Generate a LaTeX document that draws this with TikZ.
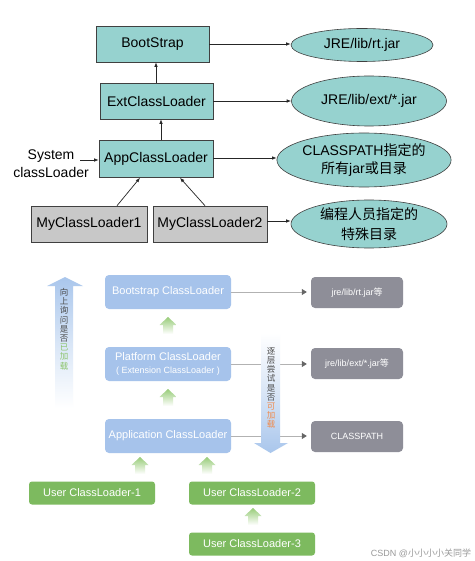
\documentclass[tikz,border=0pt]{standalone}
\usepackage{fontspec}
\setmainfont{Liberation Sans}
\newfontfamily\cjk{Noto Sans CJK SC}
\usetikzlibrary{shapes.geometric,arrows.meta}
\definecolor{teal1}{HTML}{96D2CF}
\definecolor{gbox}{HTML}{C8C8C8}
\definecolor{bbox}{HTML}{A6C3EB}
\definecolor{dbox}{HTML}{8E8E98}
\definecolor{grn}{HTML}{7DBA5F}
\definecolor{garr}{HTML}{98CC78}
\definecolor{barr}{HTML}{A9C6EC}
\definecolor{orng}{HTML}{F08A4B}
\definecolor{gtxt}{HTML}{8CC46C}
\begin{document}
\begin{tikzpicture}[x=1pt,y=-1pt,
 topbox/.style={draw=black!75,line width=0.6pt,fill=teal1,minimum width=113pt,minimum height=36pt,inner sep=0pt,font=\fontsize{14}{16}\selectfont},
 graybox/.style={topbox,fill=gbox},
 oval/.style={ellipse,draw=black!75,line width=0.6pt,fill=teal1,inner sep=0pt,align=center,font=\fontsize{14}{18}\selectfont},
 tarr/.style={-{Latex[length=4.5pt,width=3.5pt]},line width=0.7pt,black!85},
 bluebox/.style={rounded corners=4pt,fill=bbox,text=white,minimum width=126pt,minimum height=34pt,inner sep=0pt,font=\fontsize{11}{12}\selectfont,align=center},
 darkbox/.style={rounded corners=4pt,fill=dbox,text=white,minimum width=92pt,minimum height=31pt,inner sep=0pt,font=\fontsize{9}{10}\selectfont},
 greenbox/.style={rounded corners=3pt,fill=grn,text=white,minimum width=126pt,minimum height=23pt,inner sep=0pt,font=\fontsize{11}{12}\selectfont},
 barrow/.style={draw=black!30,line width=0.6pt,shorten >=4pt,-{Triangle[length=5pt,width=6pt,color=black!60]}},
 vtext/.style={align=center,inner sep=0pt,text=black!70,font=\cjk\fontsize{8.5}{9.2}\selectfont},
 fatup/.pic={\shade[top color=garr,bottom color=white] (0,0)--(8.5,8)--(5,8)--(5,17)--(-5,17)--(-5,8)--(-8.5,8)--cycle;}
]
\useasboundingbox[fill=white] (0,0) rectangle (474,561);

% ---------- top diagram ----------
\node[topbox] (boot) at (152.5,44) {BootStrap};
\node[topbox] (ext) at (156.5,101) {ExtClassLoader};
\node[topbox,minimum width=114pt,minimum height=37pt] (app) at (156,159) {AppClassLoader};
\node[graybox,minimum width=116pt] (my1) at (89,224) {MyClassLoader1};
\node[graybox,minimum width=114pt] (my2) at (210,224) {MyClassLoader2};

\node[oval,minimum width=142pt,minimum height=33pt] (e1) at (362,45) {JRE/lib/rt.jar};
\node[oval,minimum width=155pt,minimum height=50pt] (e2) at (369,101) {JRE/lib/ext/*.jar};
\node[oval,minimum width=146pt,minimum height=54pt] (e3) at (364,160) {CLASSPATH{\cjk 指定的}\\{\cjk 所有}jar{\cjk 或目录}};
\node[oval,minimum width=156pt,minimum height=48pt,font=\cjk\fontsize{14}{20}\selectfont] (e4) at (369,224) {编程人员指定的\\特殊目录};

\node[align=center,inner sep=0pt,font=\fontsize{14}{18}\selectfont] (sys) at (51,164) {System\\classLoader};
\coordinate (sysend) at (80,160);

\draw[tarr] (boot.east) -- (boot.east -| e1.west);
\draw[tarr] (ext.east) -- (ext.east -| e2.west);
\draw[tarr] ([yshift=1pt]app.east) -- ([yshift=1pt]app.east -| e3.west);
\draw[tarr] ([yshift=3pt]my2.east) -- ([yshift=3pt]my2.east -| e4.west);
\draw[tarr] ([xshift=-0.5pt]ext.north) -- ([xshift=-0.5pt]ext.north |- boot.south);
\draw[tarr] ([xshift=5pt]app.north) -- ([xshift=5pt]app.north |- ext.south);
\draw[tarr] ([xshift=28pt]my1.north) -- ([xshift=-16pt]app.south);
\draw[tarr] ([xshift=-5pt]my2.north) -- ([xshift=24pt]app.south);
\draw[tarr] (sysend) -- (sysend -| app.west);

% ---------- bottom diagram ----------
\node[bluebox] (bs) at (168,292) {Bootstrap ClassLoader};
\node[bluebox] (pf) at (168,364) {Platform ClassLoader\\[1pt]{\fontsize{9}{10}\selectfont( Extension ClassLoader )}};
\node[bluebox] (ap) at (168,436) {Application ClassLoader};
\node[darkbox] (jr1) at (357,292.5) {jre/lib/rt.jar{\cjk 等}};
\node[darkbox] (jr2) at (357,363.5) {jre/lib/ext/*.jar{\cjk 等}};
\node[darkbox] (cp) at (357,436.5) {CLASSPATH};
\node[greenbox] (u1) at (92,493) {User ClassLoader-1};
\node[greenbox] (u2) at (252,493) {User ClassLoader-2};
\node[greenbox] (u3) at (252,544) {User ClassLoader-3};

\draw[barrow] (bs.east) -- (bs.east -| jr1.west);
\draw[barrow] (pf.east) -- (pf.east -| jr2.west);
\draw[barrow] (ap.east) -- (ap.east -| cp.west);

\pic at (168,317) {fatup};
\pic at (168,389) {fatup};
\pic at (140,457) {fatup};
\pic at (207,457) {fatup};
\pic at (253,508) {fatup};

% left big arrow (upwards)
\shade[top color=barr,bottom color=white,middle color=barr!45]
  (65,277) -- (83,286) -- (73,286) -- (73,408) -- (55,408) -- (55,286) -- (47,286) -- cycle;
\node[vtext] (lt) at (64,329) {向\\上\\询\\问\\是\\否\\\textcolor{gtxt}{已}\\\textcolor{gtxt}{加}\\\textcolor{gtxt}{载}};

% right big arrow (downwards)
\shade[top color=white,bottom color=barr,middle color=barr!45]
  (261,333) -- (280,333) -- (280,443) -- (288,443) -- (270.5,453) -- (254,443) -- (261,443) -- cycle;
\node[vtext] (rt) at (271,388) {逐\\层\\尝\\试\\是\\否\\\textcolor{orng}{可}\\\textcolor{orng}{加}\\\textcolor{orng}{载}};

\node[inner sep=0pt,text=black!40,font=\fontsize{9}{10}\selectfont] (wm) at (421,553) {CSDN @{\cjk 小小小小关同学}};
\end{tikzpicture}
\end{document}
